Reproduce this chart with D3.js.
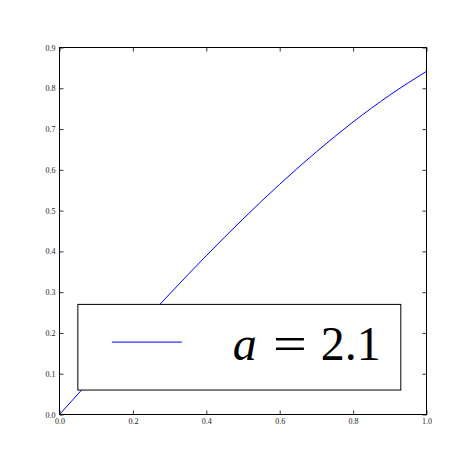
<!DOCTYPE html>
<html>
<head>
<meta charset="utf-8">
<script src="https://cdn.jsdelivr.net/npm/d3@7"></script>
<style>
  body { margin: 0; background: #fff; }
  svg { display: block; }
  .tick text { font-family: "Liberation Serif", "DejaVu Serif", serif; font-size: 8px; fill: #222; }
  .legend-text { font-family: "Liberation Serif", "DejaVu Serif", serif; font-size: 48px; fill: #000; }
</style>
</head>
<body>
<div id="chart"></div>
<script>
// curve values
var xs = [0.0, 0.1, 0.2, 0.3, 0.4, 0.5, 0.6, 0.7, 0.8, 0.9, 1.0];
var ys = [0.0, 0.0998, 0.1987, 0.2955, 0.3894, 0.4794, 0.5646, 0.6442, 0.7174, 0.7833, 0.8415];
var xTicks = [0.0, 0.2, 0.4, 0.6, 0.8, 1.0];
var yTicks = [0.0, 0.1, 0.2, 0.3, 0.4, 0.5, 0.6, 0.7, 0.8, 0.9];
var legendLabel = "2.1";

var W = 474, H = 474;
var margin = {left: 59.5, right: 47.5, top: 47.5, bottom: 59.5};
var iw = W - margin.left - margin.right;
var ih = H - margin.top - margin.bottom;

var svg = d3.select("#chart").append("svg")
    .attr("width", W)
    .attr("height", H);

var g = svg.append("g")
    .attr("transform", `translate(${margin.left},${margin.top})`);

var x = d3.scaleLinear().domain([0, 1]).range([0, iw]);
var y = d3.scaleLinear().domain([0, 0.9]).range([ih, 0]);

var fmt = d3.format(".1f");

// bottom & left axes with labels, inward ticks
g.append("g")
    .attr("transform", `translate(0,${ih})`)
    .call(d3.axisBottom(x).tickValues(xTicks).tickFormat(fmt).tickSizeInner(-4).tickSizeOuter(0).tickPadding(4));
g.append("g")
    .call(d3.axisLeft(y).tickValues(yTicks).tickFormat(fmt).tickSizeInner(-4).tickSizeOuter(0).tickPadding(4));
// top & right ticks, no labels
g.append("g")
    .call(d3.axisTop(x).tickValues(xTicks).tickFormat("").tickSizeInner(-4).tickSizeOuter(0));
g.append("g")
    .attr("transform", `translate(${iw},0)`)
    .call(d3.axisRight(y).tickValues(yTicks).tickFormat("").tickSizeInner(-4).tickSizeOuter(0));

g.selectAll(".domain").remove();
g.selectAll(".tick line").attr("stroke", "#000").attr("stroke-width", 0.8);

// curve
var line = d3.line()
    .x(function(d, i) { return x(xs[i]); })
    .y(function(d) { return y(d); })
    .curve(d3.curveMonotoneX);

g.append("path")
    .datum(ys)
    .attr("fill", "none")
    .attr("stroke", "#0000ff")
    .attr("stroke-width", 1)
    .attr("d", line);

// frame
g.append("rect")
    .attr("x", 0).attr("y", 0)
    .attr("width", iw).attr("height", ih)
    .attr("fill", "none")
    .attr("stroke", "#000")
    .attr("stroke-width", 1);

// legend
var legend = g.append("g")
    .attr("transform", `translate(${x(0.05)},${y(0.27)})`);
var lw = x(0.93) - x(0.05), lh = y(0.06) - y(0.27);
legend.append("rect")
    .attr("width", lw).attr("height", lh)
    .attr("fill", "#fff")
    .attr("stroke", "#000")
    .attr("stroke-width", 1);
legend.append("line")
    .attr("x1", 34).attr("x2", 104)
    .attr("y1", lh * 0.44).attr("y2", lh * 0.44)
    .attr("stroke", "#0000ff")
    .attr("stroke-width", 1);
var baseY = lh * 0.645;
legend.append("text")
    .attr("class", "legend-text")
    .attr("x", 155).attr("y", baseY)
    .attr("font-style", "italic")
    .text("a");
// wide, thin equals like the math font
legend.append("text")
    .attr("class", "legend-text")
    .attr("text-anchor", "middle")
    .attr("transform", `translate(212,${baseY}) scale(1.25,1)`)
    .text("=");
legend.append("text")
    .attr("class", "legend-text")
    .attr("x", 243).attr("y", baseY)
    .text(legendLabel);
</script>
</body>
</html>
